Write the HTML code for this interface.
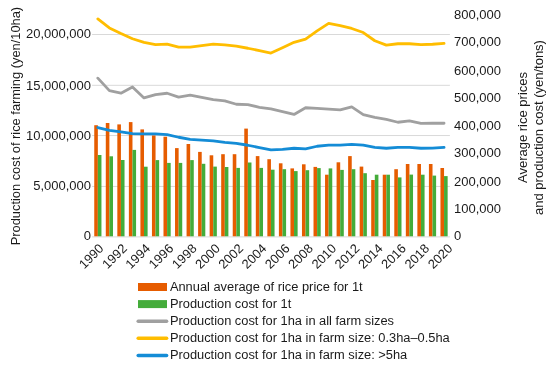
<!DOCTYPE html>
<html><head><meta charset="utf-8"><style>
html,body{margin:0;padding:0;background:#fff;}
svg{display:block;will-change:transform;}
text{font-family:"Liberation Sans",sans-serif;font-size:13px;fill:#1a1a1a;}
.lg{font-size:12.85px;}
.xl{font-size:12.85px;}
.tt{font-size:12.85px;}
</style></head><body>
<svg width="550" height="365" viewBox="0 0 550 365">
<rect width="550" height="365" fill="#fff"/>
<line x1="92.1" x2="449.9" y1="236.9" y2="236.9" stroke="#D9D9D9" stroke-width="1"/>
<line x1="92.1" x2="449.9" y1="186.45" y2="186.45" stroke="#D9D9D9" stroke-width="1"/>
<line x1="92.1" x2="449.9" y1="135.55" y2="135.55" stroke="#D9D9D9" stroke-width="1"/>
<line x1="92.1" x2="449.9" y1="85.3" y2="85.3" stroke="#D9D9D9" stroke-width="1"/>
<line x1="92.1" x2="449.9" y1="34.5" y2="34.5" stroke="#D9D9D9" stroke-width="1"/>
<rect x="94.25" y="125.2" width="3.6" height="111.1" fill="#E65C00"/>
<rect x="97.85" y="155.0" width="3.6" height="81.3" fill="#44AC3A"/>
<rect x="105.79" y="123.0" width="3.6" height="113.3" fill="#E65C00"/>
<rect x="109.39" y="156.3" width="3.6" height="80.0" fill="#44AC3A"/>
<rect x="117.33" y="124.4" width="3.6" height="111.9" fill="#E65C00"/>
<rect x="120.93" y="160.0" width="3.6" height="76.3" fill="#44AC3A"/>
<rect x="128.87" y="122.1" width="3.6" height="114.2" fill="#E65C00"/>
<rect x="132.47" y="149.9" width="3.6" height="86.4" fill="#44AC3A"/>
<rect x="140.41" y="129.4" width="3.6" height="106.9" fill="#E65C00"/>
<rect x="144.01" y="166.7" width="3.6" height="69.6" fill="#44AC3A"/>
<rect x="151.95" y="135.4" width="3.6" height="100.9" fill="#E65C00"/>
<rect x="155.55" y="160.1" width="3.6" height="76.2" fill="#44AC3A"/>
<rect x="163.49" y="136.7" width="3.6" height="99.6" fill="#E65C00"/>
<rect x="167.09" y="162.9" width="3.6" height="73.4" fill="#44AC3A"/>
<rect x="175.03" y="148.1" width="3.6" height="88.2" fill="#E65C00"/>
<rect x="178.63" y="162.9" width="3.6" height="73.4" fill="#44AC3A"/>
<rect x="186.57" y="144.0" width="3.6" height="92.3" fill="#E65C00"/>
<rect x="190.17" y="160.1" width="3.6" height="76.2" fill="#44AC3A"/>
<rect x="198.11" y="151.9" width="3.6" height="84.4" fill="#E65C00"/>
<rect x="201.71" y="163.8" width="3.6" height="72.5" fill="#44AC3A"/>
<rect x="209.65" y="155.3" width="3.6" height="81.0" fill="#E65C00"/>
<rect x="213.25" y="166.6" width="3.6" height="69.7" fill="#44AC3A"/>
<rect x="221.19" y="154.2" width="3.6" height="82.1" fill="#E65C00"/>
<rect x="224.79" y="167.0" width="3.6" height="69.3" fill="#44AC3A"/>
<rect x="232.73" y="154.2" width="3.6" height="82.1" fill="#E65C00"/>
<rect x="236.33" y="167.9" width="3.6" height="68.4" fill="#44AC3A"/>
<rect x="244.27" y="128.6" width="3.6" height="107.7" fill="#E65C00"/>
<rect x="247.87" y="162.5" width="3.6" height="73.8" fill="#44AC3A"/>
<rect x="255.81" y="156.1" width="3.6" height="80.2" fill="#E65C00"/>
<rect x="259.41" y="167.9" width="3.6" height="68.4" fill="#44AC3A"/>
<rect x="267.35" y="159.2" width="3.6" height="77.1" fill="#E65C00"/>
<rect x="270.95" y="169.7" width="3.6" height="66.6" fill="#44AC3A"/>
<rect x="278.89" y="163.3" width="3.6" height="73.0" fill="#E65C00"/>
<rect x="282.49" y="169.2" width="3.6" height="67.1" fill="#44AC3A"/>
<rect x="290.43" y="168.4" width="3.6" height="67.9" fill="#E65C00"/>
<rect x="294.03" y="171.1" width="3.6" height="65.2" fill="#44AC3A"/>
<rect x="301.97" y="164.3" width="3.6" height="72.0" fill="#E65C00"/>
<rect x="305.57" y="170.2" width="3.6" height="66.1" fill="#44AC3A"/>
<rect x="313.51" y="166.9" width="3.6" height="69.4" fill="#E65C00"/>
<rect x="317.11" y="168.1" width="3.6" height="68.2" fill="#44AC3A"/>
<rect x="325.05" y="174.7" width="3.6" height="61.6" fill="#E65C00"/>
<rect x="328.65" y="168.4" width="3.6" height="67.9" fill="#44AC3A"/>
<rect x="336.59" y="162.3" width="3.6" height="74.0" fill="#E65C00"/>
<rect x="340.19" y="169.9" width="3.6" height="66.4" fill="#44AC3A"/>
<rect x="348.13" y="156.1" width="3.6" height="80.2" fill="#E65C00"/>
<rect x="351.73" y="169.2" width="3.6" height="67.1" fill="#44AC3A"/>
<rect x="359.67" y="166.6" width="3.6" height="69.7" fill="#E65C00"/>
<rect x="363.27" y="173.2" width="3.6" height="63.1" fill="#44AC3A"/>
<rect x="371.21" y="180.0" width="3.6" height="56.3" fill="#E65C00"/>
<rect x="374.81" y="174.7" width="3.6" height="61.6" fill="#44AC3A"/>
<rect x="382.75" y="174.7" width="3.6" height="61.6" fill="#E65C00"/>
<rect x="386.35" y="174.7" width="3.6" height="61.6" fill="#44AC3A"/>
<rect x="394.29" y="169.2" width="3.6" height="67.1" fill="#E65C00"/>
<rect x="397.89" y="177.4" width="3.6" height="58.9" fill="#44AC3A"/>
<rect x="405.83" y="164.0" width="3.6" height="72.3" fill="#E65C00"/>
<rect x="409.43" y="174.6" width="3.6" height="61.7" fill="#44AC3A"/>
<rect x="417.37" y="164.0" width="3.6" height="72.3" fill="#E65C00"/>
<rect x="420.97" y="174.7" width="3.6" height="61.6" fill="#44AC3A"/>
<rect x="428.91" y="164.0" width="3.6" height="72.3" fill="#E65C00"/>
<rect x="432.51" y="175.6" width="3.6" height="60.7" fill="#44AC3A"/>
<rect x="440.45" y="168.0" width="3.6" height="68.3" fill="#E65C00"/>
<rect x="444.05" y="176.1" width="3.6" height="60.2" fill="#44AC3A"/>
<polyline points="97.85,78.15 109.39,90.65 120.93,93.15 132.47,87.05 144.01,97.95 155.55,94.55 167.09,93.25 178.63,97.05 190.17,95.15 201.71,97.35 213.25,99.55 224.79,100.95 236.33,104.25 247.87,104.55 259.41,107.35 270.95,108.95 282.49,111.55 294.03,114.45 305.57,107.75 317.11,108.35 328.65,109.15 340.19,109.85 351.73,106.95 363.27,114.55 374.81,117.35 386.35,119.45 397.89,122.25 409.43,120.85 420.97,123.45 432.51,123.25 444.05,123.25" fill="none" stroke="#A0A0A0" stroke-width="2.8" stroke-linejoin="round" stroke-linecap="round"/>
<polyline points="97.85,18.95 109.39,27.95 120.93,33.55 132.47,38.75 144.01,42.45 155.55,44.65 167.09,44.15 178.63,47.15 190.17,47.15 201.71,45.65 213.25,44.15 224.79,44.95 236.33,46.15 247.87,48.25 259.41,50.65 270.95,53.05 282.49,47.75 294.03,42.35 305.57,39.05 317.11,30.95 328.65,23.45 340.19,25.65 351.73,28.45 363.27,32.55 374.81,40.75 386.35,45.15 397.89,43.75 409.43,43.75 420.97,44.55 432.51,44.25 444.05,43.35" fill="none" stroke="#FFBD00" stroke-width="2.8" stroke-linejoin="round" stroke-linecap="round"/>
<polyline points="97.85,127.55 109.39,130.45 120.93,131.95 132.47,133.55 144.01,133.95 155.55,133.85 167.09,134.55 178.63,137.25 190.17,139.35 201.71,140.05 213.25,140.95 224.79,142.45 236.33,143.45 247.87,145.25 259.41,147.55 270.95,149.85 282.49,149.35 294.03,148.25 305.57,148.95 317.11,146.25 328.65,145.05 340.19,145.15 351.73,144.45 363.27,145.05 374.81,147.35 386.35,148.25 397.89,147.45 409.43,147.35 420.97,148.25 432.51,148.05 444.05,147.35" fill="none" stroke="#148CD6" stroke-width="2.8" stroke-linejoin="round" stroke-linecap="round"/>
<text x="91" y="239.7" text-anchor="end">0</text>
<text x="91" y="190.1" text-anchor="end">5,000,000</text>
<text x="91" y="139.7" text-anchor="end">10,000,000</text>
<text x="91" y="89.6" text-anchor="end">15,000,000</text>
<text x="91" y="37.5" text-anchor="end">20,000,000</text>
<text x="454" y="240.00">0</text>
<text x="454" y="213.30">100,000</text>
<text x="454" y="186.00">200,000</text>
<text x="454" y="157.00">300,000</text>
<text x="454" y="129.60">400,000</text>
<text x="454" y="102.20">500,000</text>
<text x="454" y="74.60">600,000</text>
<text x="454" y="46.10">700,000</text>
<text x="454" y="18.50">800,000</text>
<text x="104.4" y="249.3" text-anchor="end" transform="rotate(-45 104.4 249.3)" class="xl">1990</text>
<text x="127.7" y="249.3" text-anchor="end" transform="rotate(-45 127.7 249.3)" class="xl">1992</text>
<text x="151.0" y="249.3" text-anchor="end" transform="rotate(-45 151.0 249.3)" class="xl">1994</text>
<text x="174.2" y="249.3" text-anchor="end" transform="rotate(-45 174.2 249.3)" class="xl">1996</text>
<text x="197.5" y="249.3" text-anchor="end" transform="rotate(-45 197.5 249.3)" class="xl">1998</text>
<text x="220.8" y="249.3" text-anchor="end" transform="rotate(-45 220.8 249.3)" class="xl">2000</text>
<text x="244.0" y="249.3" text-anchor="end" transform="rotate(-45 244.0 249.3)" class="xl">2002</text>
<text x="267.3" y="249.3" text-anchor="end" transform="rotate(-45 267.3 249.3)" class="xl">2004</text>
<text x="290.5" y="249.3" text-anchor="end" transform="rotate(-45 290.5 249.3)" class="xl">2006</text>
<text x="313.8" y="249.3" text-anchor="end" transform="rotate(-45 313.8 249.3)" class="xl">2008</text>
<text x="337.1" y="249.3" text-anchor="end" transform="rotate(-45 337.1 249.3)" class="xl">2010</text>
<text x="360.3" y="249.3" text-anchor="end" transform="rotate(-45 360.3 249.3)" class="xl">2012</text>
<text x="383.6" y="249.3" text-anchor="end" transform="rotate(-45 383.6 249.3)" class="xl">2014</text>
<text x="406.8" y="249.3" text-anchor="end" transform="rotate(-45 406.8 249.3)" class="xl">2016</text>
<text x="430.1" y="249.3" text-anchor="end" transform="rotate(-45 430.1 249.3)" class="xl">2018</text>
<text x="453.4" y="249.3" text-anchor="end" transform="rotate(-45 453.4 249.3)" class="xl">2020</text>
<text x="0" y="0" text-anchor="middle" transform="translate(19.8 126.1) rotate(-90)" class="tt">Production cost of rice farming (yen/10ha)</text>
<text x="0" y="0" text-anchor="middle" transform="translate(527 127.5) rotate(-90)">Average rice prices</text>
<text x="0" y="0" text-anchor="middle" transform="translate(543 127.5) rotate(-90)">and production cost (yen/tons)</text>
<rect x="138" y="283.0" width="29" height="8" fill="#E65C00"/>
<text x="169.9" y="291.0" class="lg">Annual average of rice price for 1t</text>
<rect x="138" y="300.1" width="29" height="8" fill="#44AC3A"/>
<text x="169.9" y="308.1" class="lg">Production cost for 1t</text>
<line x1="138.2" x2="166.6" y1="321.2" y2="321.2" stroke="#A0A0A0" stroke-width="3.5" stroke-linecap="round"/>
<text x="169.9" y="325.2" class="lg">Production cost for 1ha in all farm sizes</text>
<line x1="138.2" x2="166.6" y1="338.3" y2="338.3" stroke="#FFBD00" stroke-width="3.5" stroke-linecap="round"/>
<text x="169.9" y="342.3" class="lg">Production cost for 1ha in farm size: 0.3ha–0.5ha</text>
<line x1="138.2" x2="166.6" y1="355.4" y2="355.4" stroke="#148CD6" stroke-width="3.5" stroke-linecap="round"/>
<text x="169.9" y="359.4" class="lg">Production cost for 1ha in farm size: &gt;5ha</text>
</svg>
</body></html>
